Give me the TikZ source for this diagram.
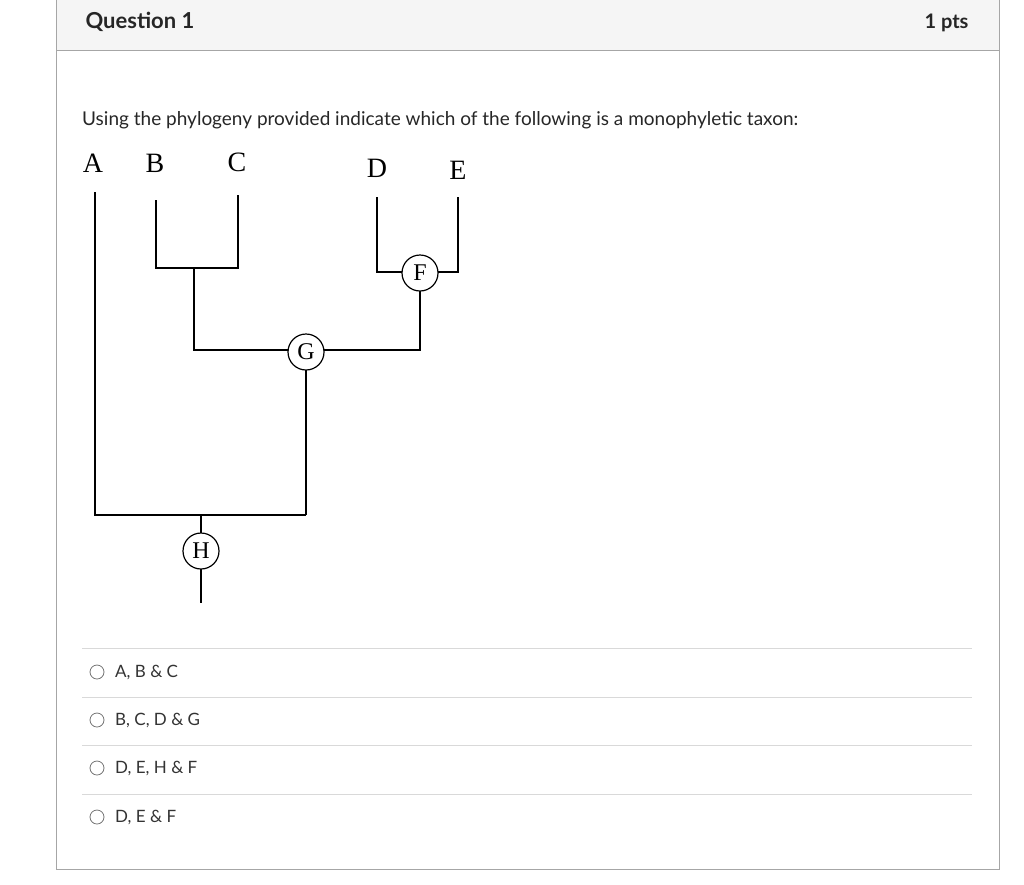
\documentclass[tikz,border=0pt]{standalone}
\usepackage{fontspec}
\setmainfont{Lato}
\newfontfamily\treefont{Liberation Serif}
\begin{document}
\begin{tikzpicture}[x=1pt,y=-1pt,
  br/.style={line width=1.6pt,black},
  lbl/.style={font=\treefont\fontsize{28}{28}\selectfont,inner sep=0},
  inode/.style={circle,draw,line width=1.2pt,fill=white,minimum size=36pt,inner sep=0,font=\treefont\fontsize{24}{24}\selectfont},
  sep/.style={draw=black!15,line width=0.8pt},
  opt/.style={circle,draw=black!55,line width=0.8pt,minimum size=14pt,inner sep=0},
  otxt/.style={anchor=west,font=\fontsize{17}{17}\selectfont,text=black!80,inner sep=0}]
\useasboundingbox (0,0) rectangle (1024,884);
\fill[black!4] (56,0) rectangle (999,50);
\draw[black!35,line width=1pt] (56,0) -- (56,869) -- (999,869) -- (999,0);
\draw[black!35,line width=1pt] (56,50) -- (999,50);
\node[anchor=west,font=\bfseries\fontsize{22}{22}\selectfont,text=black!85] (q) at (82,22) {Question 1};
\node[anchor=east,font=\bfseries\fontsize{20}{20}\selectfont,text=black!85] (p) at (972,23) {1 pts};
\node[anchor=west,font=\fontsize{19}{19}\selectfont,text=black!85,inner sep=0] (t) at (82,120) {Using the phylogeny provided indicate which of the following is a monophyletic taxon:};
% tree
\node[lbl] (A) at (93,163) {A};
\node[lbl] (B) at (155,163) {B};
\node[lbl] (C) at (237,162) {C};
\node[lbl] (D) at (377,168) {D};
\node[lbl] (E) at (458,170) {E};
\coordinate (a1) at (95,192); \coordinate (a2) at (95,515);
\coordinate (g2) at (306,515);
\draw[br] (a1) -- (a2) -- (g2);
\draw[br] (156,200) -- (156,268) -- (238,268) -- (238,195);
\draw[br] (194,268) -- (194,350) -- (420,350) -- (420,273);
\draw[br] (377,197) -- (377,272) -- (458,272) -- (458,197);
\draw[br] (306,352) -- (g2);
\draw[br] (201,515) -- (201,603);
\node[inode] (F) at (420,273) {F};
\node[inode] (G) at (306,352) {G};
\node[inode] (H) at (201,551) {H};
% options
\foreach \y in {648,697,745,794} \draw[sep] (82,\y) -- (972,\y);
\foreach \y/\s [count=\i] in {672/{A, B \& C},720/{B, C, D \& G},768/{D, E, H \& F},817/{D, E \& F}} {
  \node[opt] (o\i) at (97,\y) {};
  \node[otxt] (ot\i) at (115,\y) {\s};
}
\end{tikzpicture}
\end{document}
